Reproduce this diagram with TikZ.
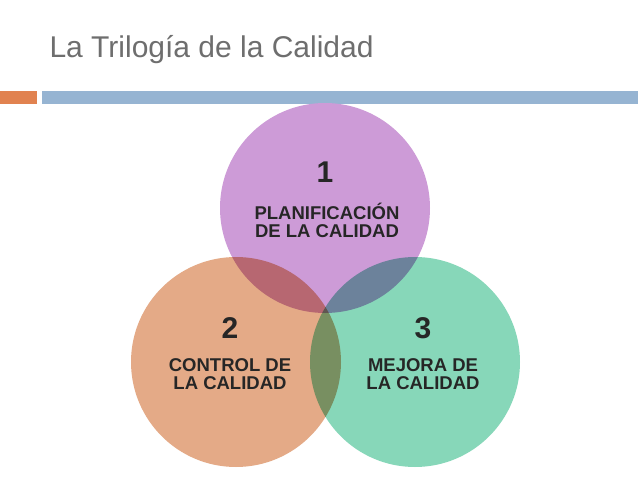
\documentclass[tikz,border=0pt]{standalone}
\usepackage{fontspec}
\setmainfont{Liberation Sans}
\usetikzlibrary{positioning}
\definecolor{planColor}{RGB}{205,155,215}
\definecolor{ctrlColor}{RGB}{228,170,135}
\definecolor{mejColor}{RGB}{135,215,185}
\definecolor{titleGray}{RGB}{110,110,110}
\definecolor{barOrange}{RGB}{225,130,80}
\definecolor{barBlue}{RGB}{150,180,210}
\tikzset{%
	% circles of the trilogy
	phase/.style = {circle, minimum size=210pt, inner sep=0pt},
	phaseNum/.style = {font=\fontsize{30pt}{32pt}\selectfont\bfseries, text=black!85},
	phaseText/.style = {font=\fontsize{18.5pt}{18pt}\selectfont\bfseries, align=center, text=black!85}
}
\begin{document}
\begin{tikzpicture}[x=1pt, y=-1pt]
		\useasboundingbox (0,0) rectangle (638,479);
		\fill[white] (0,0) rectangle (638,479);
		\node[anchor=west, text=titleGray, font=\fontsize{30pt}{32pt}\selectfont] (title) at (46,50) {La Trilogía de la Calidad};
		\fill[barOrange] (0,91) rectangle (37,104);
		\fill[barBlue] (42,91) rectangle (638,104);
		%% circles
		\begin{scope}[blend group=multiply]
			\node[phase, fill=planColor] (plan) at (325,208) {};
			\node[phase, fill=ctrlColor] (ctrl) at (236,362) {};
			\node[phase, fill=mejColor] (mej) at (415,362) {};
		\end{scope}
		\node[phaseNum] (planNum) at (325,172) {1};
		\node[phaseText] (planText) at (327,220) {PLANIFICACIÓN\\DE LA CALIDAD};
		\node[phaseNum] (ctrlNum) at (230,328) {2};
		\node[phaseText] (ctrlText) at (230,374) {CONTROL DE\\LA CALIDAD};
		\node[phaseNum] (mejNum) at (423,328) {3};
		\node[phaseText] (mejText) at (423,374) {MEJORA DE\\LA CALIDAD};
\end{tikzpicture}
\end{document}
